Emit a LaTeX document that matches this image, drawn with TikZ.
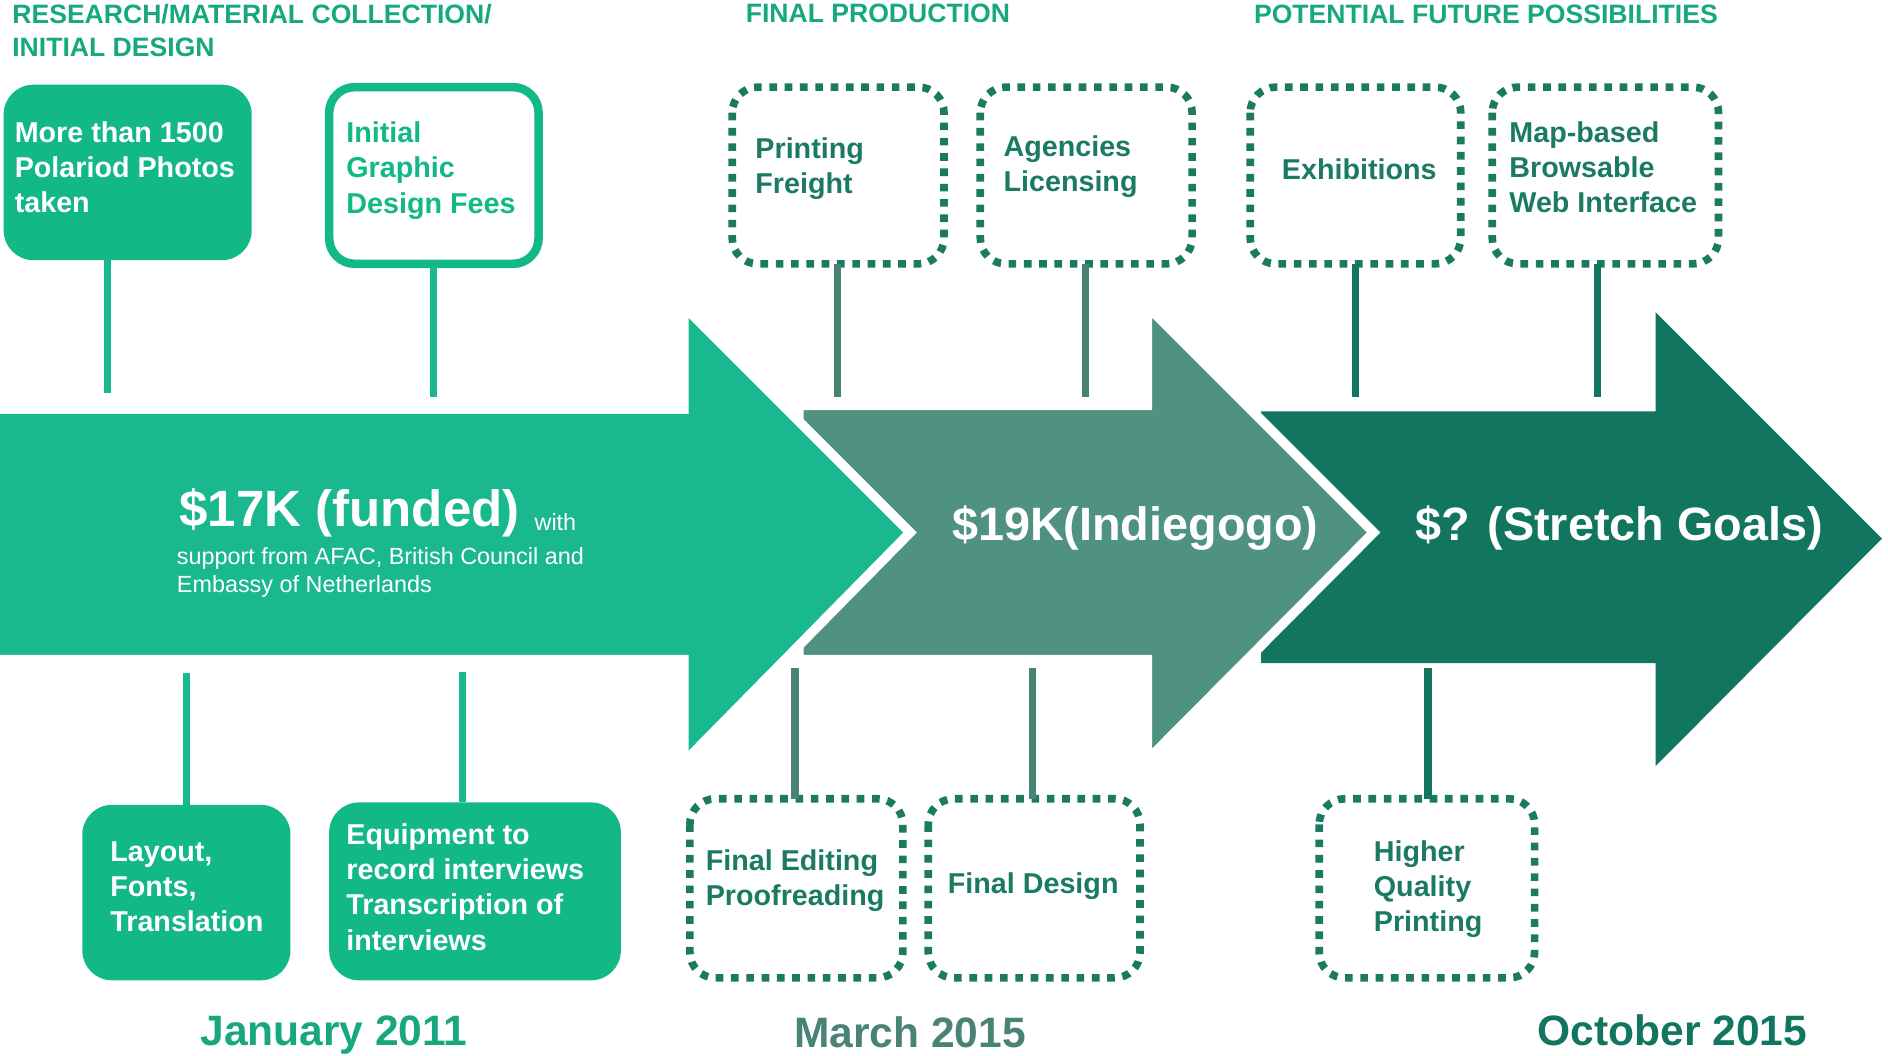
\documentclass[tikz,border=0pt]{standalone}
\usepackage{fontspec}
\setmainfont{Liberation Sans}
\begin{document}
\begin{tikzpicture}[x=0.02cm,y=-0.02cm]
\definecolor{ga}{HTML}{1AB88F}
\definecolor{gs}{HTML}{12B886}
\definecolor{gb}{HTML}{509282}
\definecolor{gc}{HTML}{117560}
\definecolor{gt}{HTML}{1B7A62}
\definecolor{gh}{HTML}{17A880}
\tikzset{
 solidbox/.style={fill=gs,rounded corners=14pt},
 outbox/.style={draw=gs,line width=4pt,fill=white,rounded corners=12pt},
 dotbox/.style={draw=gt,line width=3.6pt,dash pattern=on 3.6pt off 3.6pt,rounded corners=12pt},
 btext/.style={font=\bfseries\fontsize{13.5}{16.5}\selectfont,align=left,anchor=west},
 head/.style={font=\bfseries\fontsize{12.5}{15}\selectfont,text=gh,anchor=west},
 datet/.style={font=\bfseries\fontsize{20}{24}\selectfont},
 conn/.style={line width=3.5pt}
}
\useasboundingbox (0,0) rectangle (1560,872.5);
% arrows
\fill[gc] (1042,340)--(1368,340)--(1368,258)--(1555,445)--(1368,633)--(1368,548)--(1042,548)--cycle;
\filldraw[fill=gb,draw=white,line width=4.5pt] (660,335)--(948,335)--(948,253)--(1135,440)--(948,628)--(948,545)--(660,545)--cycle;
\fill[white] (0,330) rectangle (8,550);
\filldraw[fill=ga,draw=white,line width=4.5pt] (-20,338)--(565,338)--(565,253)--(752,440)--(565,630)--(565,545)--(-20,545)--cycle;
% arrow texts
\node[anchor=west,text=white,font=\bfseries\fontsize{24}{28}\selectfont] (t1) at (142,424) {\$17K (funded)};
\node[anchor=west,text=white,font=\fontsize{11}{13}\selectfont] at (t1.east) [yshift=-4pt] {with};
\node[anchor=north west,text=white,align=left,font=\fontsize{11}{13.5}\selectfont] at (140,446) {support from AFAC, British Council and\\Embassy of Netherlands};
\node[text=white,font=\bfseries\fontsize{22}{26}\selectfont] (t2) at (938,436) {\$19K(Indiegogo)};
\node[text=white,font=\bfseries\fontsize{22}{26}\selectfont] (t3) at (1338,436) {\$? (Stretch Goals)};
% headings
\node[head] at (4,12) {RESEARCH/MATERIAL COLLECTION/};
\node[head] at (4,39) {INITIAL DESIGN};
\node[head] at (610,11) {FINAL PRODUCTION};
\node[head] at (1030,12) {POTENTIAL FUTURE POSSIBILITIES};
% boxes
\fill[solidbox] (3,70) rectangle (208,215);
\node[btext,text=white] (b1) at (6,138) {More than 1500\\Polariod Photos\\taken};
\draw[conn,ga] (89,215)--(89,325);
\draw[outbox] (272,72) rectangle (445,218);
\node[btext,text=gs] (b2) at (280,141) {Initial\\Graphic\\Design Fees};
\draw[conn,ga] (358,221)--(358,328);
\fill[solidbox] (68,665) rectangle (240,810);
\node[btext,text=white] (b3) at (85,733) {Layout,\\Fonts,\\Translation};
\draw[conn,ga] (154,556)--(154,665);
\fill[solidbox] (272,663) rectangle (513,810);
\node[btext,text=white] (b4) at (280,733) {Equipment to\\record interviews\\Transcription of\\interviews};
\draw[conn,ga] (382,555)--(382,663);
% dotted boxes
\draw[dotbox] (605,72) rectangle (780,218);
\node[btext,text=gt] at (618,139) {Printing\\Freight};
\draw[conn,gb!90!black] (692,218)--(692,328);
\draw[dotbox] (810,72) rectangle (985,218);
\node[btext,text=gt] at (823,138) {Agencies\\Licensing};
\draw[conn,gb!90!black] (897,218)--(897,328);
\draw[dotbox] (1033,72) rectangle (1207,218);
\node[btext,text=gt] at (1053,140) {Exhibitions};
\draw[conn,gc] (1120,218)--(1120,328);
\draw[dotbox] (1233,72) rectangle (1420,218);
\node[btext,text=gt] at (1241,138) {Map-based\\Browsable\\Web Interface};
\draw[conn,gc] (1320,218)--(1320,328);
\draw[dotbox] (570,660) rectangle (746,808);
\node[btext,text=gt] at (577,728) {Final Editing\\Proofreading};
\draw[conn,gb!90!black] (657,552)--(657,660);
\draw[dotbox] (767,660) rectangle (942,808);
\node[btext,text=gt] at (777,732) {Final Design};
\draw[conn,gb!90!black] (853,552)--(853,660);
\draw[dotbox] (1090,660) rectangle (1268,808);
\node[btext,text=gt] at (1129,735) {Higher\\Quality\\Printing};
\draw[conn,gc] (1180,552)--(1180,660);
% dates
\node[datet,text=gh] at (276,855) {January 2011};
\node[datet,text=gb!90!black] at (752,853) {March 2015};
\node[datet,text=gc] at (1382,851) {October 2015};
\end{tikzpicture}
\end{document}
